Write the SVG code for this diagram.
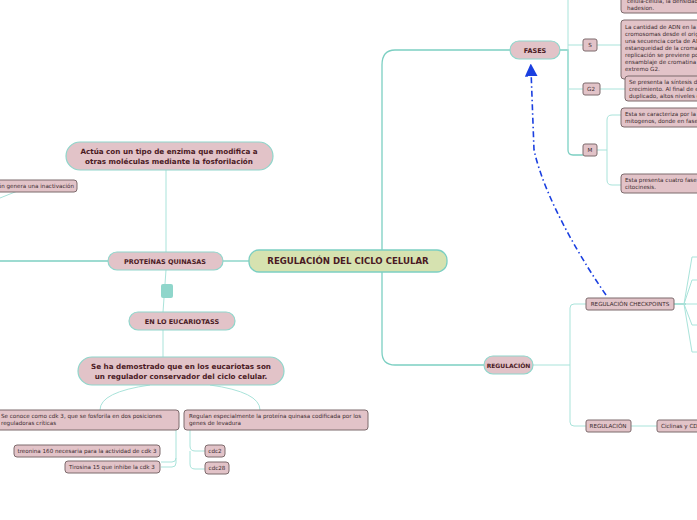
<svg xmlns="http://www.w3.org/2000/svg" width="697" height="520" viewBox="0 0 697 520">
<defs>
<style>
.n{fill:#e2c3c8;stroke:#7d6a6c;stroke-width:1}
.b{fill:#e2c3c8;stroke:#8fd6cb;stroke-width:1.2}
.t{font-family:"DejaVu Sans",sans-serif;font-size:5.6px;fill:#3a2a2e}
.tb{font-family:"DejaVu Sans",sans-serif;font-size:6.5px;font-weight:bold;fill:#4a1a24}
.tl{font-size:7.2px}
.c{fill:none;stroke:#a9e3da;stroke-width:1}
.m{fill:none;stroke:#7ccfc2;stroke-width:1.3}
</style>
<marker id="ar" markerWidth="8" markerHeight="8" refX="4" refY="4" orient="auto"><path d="M0,0 L8,4 L0,8 z" fill="#1a3fe0"/></marker>
</defs>
<rect width="697" height="520" fill="#fff"/>
<g id="connectors">
<path class="m" d="M447,261 H382 V65 Q382,50 395,50 H510"/>
<path class="m" d="M447,261 H382 V352 Q382,365 395,365 H484"/>
<path class="m" d="M249,261 H223"/>
<path class="m" d="M108,261 H0"/>
<path class="c" d="M166,170 V252"/>
<path class="c" d="M166,270 L163,312"/>
<path class="c" d="M163,330 V357"/>
<path class="m" d="M560,50 H568 V150 Q568,155 573,155 H583"/>
<path class="c" d="M568,0 V150"/>
<path class="c" d="M568,45 H583"/>
<path class="c" d="M568,89 H583"/>
<path class="c" d="M597,45 H621"/>
<path class="c" d="M600,89 H625"/>
<path class="c" d="M597,150 H607 V120 Q607,115 612,115 H621 M607,150 V180 Q607,185 612,185 H621"/>
<path class="c" d="M533,365 H570 V308 Q570,304 574,304 H586 M570,365 V422 Q570,426 574,426 H586"/>
<path class="c" d="M631,426 H657"/>
<path class="m" d="M674,304 H686"/>
<path class="c" d="M684,304 L692,257 H697 M684,304 L692,280 H697 M686,304 H697 M684,304 L692,325 H697 M684,304 L692,352 H697"/>
<path class="c" d="M176,430 V458 Q176,462 172,462 H161 M176,458 V463 Q176,467 172,467 H161"/>
<path class="c" d="M190,430 V446 Q190,451 195,451 H205 M190,451 V464 Q190,469 195,469 H205"/>
<path class="c" d="M150,385 Q100,392 100,410 M210,385 Q260,392 260,410"/>
<path class="c" d="M0,198 L20,190"/>
<path d="M606,295 C585,265 545,200 534,150 L531,70" fill="none" stroke="#1a3fe0" stroke-width="1.6" stroke-dasharray="6,3,1.5,3" marker-end="url(#ar)"/>
</g>
<g id="center"><rect x="249" y="250" width="198" height="22" rx="10" fill="#d6e2b0" stroke="#7ccfc2" stroke-width="1.3"/><text class="tb" x="348" y="264" text-anchor="middle" style="font-size:8.6px">REGULACIÓN DEL CICLO CELULAR</text></g>
<g id="fases"><rect class="b" x="510" y="41" width="50" height="18" rx="9"/><text class="tb" x="535" y="53" text-anchor="middle">FASES</text></g>
<g id="regulacion"><rect class="b" x="484" y="356" width="49" height="18" rx="9"/><text class="tb" x="508.5" y="368" text-anchor="middle" style="font-size:6px">REGULACIÓN</text></g>
<g id="pq"><rect class="b" x="108" y="252" width="115" height="18" rx="9"/><text class="tb" x="165" y="264" text-anchor="middle">PROTEÍNAS QUINASAS</text></g>
<g id="sq"><rect x="161" y="284" width="12" height="14" rx="2" fill="#8fd6cb"/></g>
<g id="euc"><rect class="b" x="129" y="312" width="106" height="18" rx="9"/><text class="tb" x="182" y="324" text-anchor="middle">EN LO EUCARIOTASS</text></g>
<g id="enz"><rect class="b" x="66" y="142" width="207" height="28" rx="14"/><text class="tb tl" x="169" y="154" text-anchor="middle">Actúa con un tipo de enzima que modifica a</text><text class="tb tl" x="169" y="164" text-anchor="middle">otras moléculas mediante la fosforilación</text></g>
<g id="dem"><rect class="b" x="78" y="357" width="206" height="28" rx="14"/><text class="tb tl" x="181" y="369" text-anchor="middle">Se ha demostrado que en los eucariotas son</text><text class="tb tl" x="181" y="379" text-anchor="middle">un regulador conservador del ciclo celular.</text></g>
<g id="inact"><rect class="n" x="-5" y="180" width="82" height="12" rx="3"/><text class="t" x="74" y="188" text-anchor="end">ión genera una inactivación</text></g>
<g id="cdk3"><rect class="n" x="-5" y="410" width="184" height="20" rx="3"/><text class="t" x="1" y="418">Se conoce como cdk 3, que se fosforila en dos posiciones</text><text class="t" x="1" y="425">reguladoras críticas</text></g>
<g id="lev"><rect class="n" x="184" y="410" width="184" height="20" rx="3"/><text class="t" x="189" y="418">Regulan especialmente la proteína quinasa codificada por los</text><text class="t" x="189" y="425">genes de levadura</text></g>
<g id="treo"><rect class="n" x="14" y="445" width="146" height="12" rx="3"/><text class="t" x="87" y="453" text-anchor="middle">treonina 160 necesaria para la actividad de cdk 3</text></g>
<g id="tiro"><rect class="n" x="65" y="461" width="95" height="12" rx="3"/><text class="t" x="112" y="469" text-anchor="middle">Tirosina 15 que inhibe la cdk 3</text></g>
<g id="cdc2"><rect class="n" x="205" y="445" width="20" height="12" rx="3"/><text class="t" x="215" y="453" text-anchor="middle">cdc2</text></g>
<g id="cdc28"><rect class="n" x="205" y="462" width="24" height="12" rx="3"/><text class="t" x="217" y="470" text-anchor="middle">cdc28</text></g>
<g id="g1txt"><rect class="n" x="621" y="-10" width="90" height="23" rx="3"/><text class="t" x="627" y="3">célula-célula, la densidad</text><text class="t" x="627" y="10">hadesion.</text></g>
<g id="s"><rect class="n" x="583" y="39" width="14" height="12" rx="2"/><text class="t" x="590" y="47" text-anchor="middle">S</text></g>
<g id="stxt"><rect class="n" x="621" y="20" width="90" height="59" rx="3"/><text class="t" x="625" y="29">La cantidad de ADN en la</text><text class="t" x="625" y="36">cromosomas desde el orig</text><text class="t" x="625" y="43">una secuencia corta de AD</text><text class="t" x="625" y="50">estanqueidad de la croma</text><text class="t" x="625" y="57">replicación se previene po</text><text class="t" x="625" y="64">ensamblaje de cromatina</text><text class="t" x="625" y="71">extremo G2.</text></g>
<g id="g2"><rect class="n" x="583" y="83" width="17" height="12" rx="2"/><text class="t" x="591" y="91" text-anchor="middle">G2</text></g>
<g id="g2txt"><rect class="n" x="625" y="76" width="90" height="25" rx="3"/><text class="t" x="629" y="84">Se presenta la síntesis d</text><text class="t" x="629" y="91">crecimiento. Al final de e</text><text class="t" x="629" y="98">duplicado, altos niveles d</text></g>
<g id="m"><rect class="n" x="583" y="144" width="14" height="12" rx="2"/><text class="t" x="590" y="152" text-anchor="middle">M</text></g>
<g id="m1"><rect class="n" x="621" y="108" width="90" height="19" rx="3"/><text class="t" x="625" y="116">Esta se caracteriza por la</text><text class="t" x="625" y="123">mitogenos, donde en fase</text></g>
<g id="m2"><rect class="n" x="621" y="174" width="90" height="19" rx="3"/><text class="t" x="625" y="182">Esta presenta cuatro fase</text><text class="t" x="625" y="189">citocinesis.</text></g>
<g id="chk"><rect class="n" x="586" y="298" width="88" height="12" rx="2"/><text class="t" x="630" y="306" text-anchor="middle">REGULACIÓN CHECKPOINTS</text></g>
<g id="reg2"><rect class="n" x="586" y="420" width="45" height="12" rx="2"/><text class="t" x="608" y="428" text-anchor="middle">REGULACIÓN</text></g>
<g id="cic"><rect class="n" x="657" y="420" width="50" height="12" rx="2"/><text class="t" x="661" y="428">Ciclinas y CD</text></g>
</svg>
